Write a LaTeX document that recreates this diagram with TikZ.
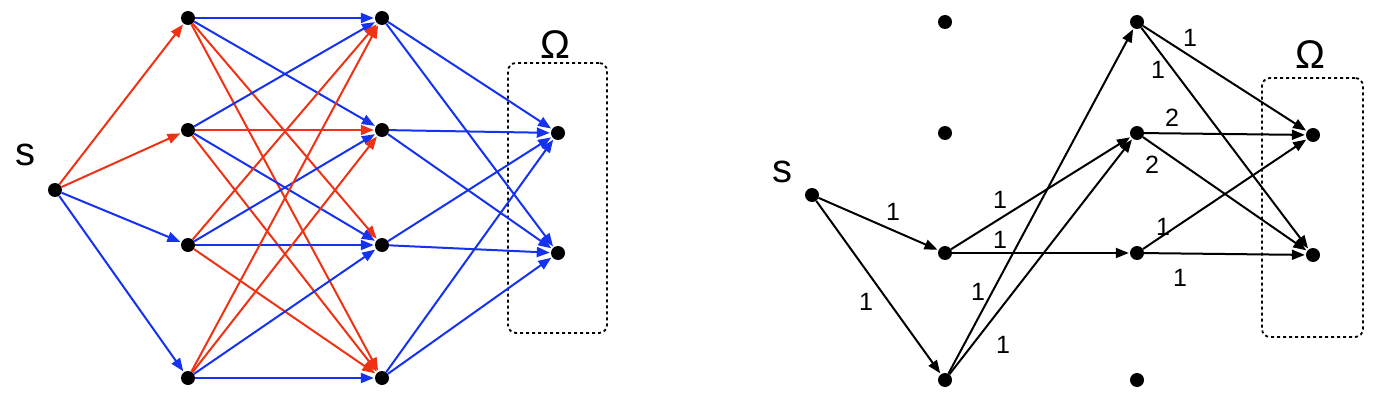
\documentclass[tikz,border=0pt]{standalone}
\usepackage{fontspec}
\setmainfont{Liberation Sans}
\usetikzlibrary{arrows.meta}
\definecolor{eb}{RGB}{20,50,240}
\definecolor{er}{RGB}{240,50,20}
\begin{document}
\begin{tikzpicture}[x=1pt,y=-1pt,
  dot/.style={circle,fill=black,inner sep=0pt,minimum size=14pt},
  ar/.style={line width=2pt,-{Triangle[length=13pt,width=10pt]},shorten >=1pt},
  bl/.style={ar,eb}, rd/.style={ar,er}, bk/.style={ar,black},
  lab/.style={font=\fontsize{25}{25}\selectfont},
  big/.style={font=\fontsize{40}{40}\selectfont},
  box/.style={draw,dashed,line width=1.8pt,rounded corners=8pt}]
\useasboundingbox (0,0) rectangle (1376,404);
% left
\node[dot] (s) at (55,190) {};
\node[big] (sl) at (25,155) {s};
\foreach \i/\y in {1/18,2/130,3/245,4/378}{
  \node[dot] (a\i) at (188,\y) {};
  \node[dot] (b\i) at (382,\y) {};}
\node[dot] (o1) at (558,133) {};
\node[dot] (o2) at (558,253) {};
\node[box,minimum width=99pt,minimum height=270pt] (bx) at (557.5,198) {};
\node[big] (om) at (555,45) {Ω};
\draw[rd] (s)--(a1); \draw[rd] (s)--(a2); \draw[bl] (s)--(a3); \draw[bl] (s)--(a4);
\draw[bl] (a1)--(b1); \draw[bl] (a1)--(b2); \draw[rd] (a1)--(b3); \draw[rd] (a1)--(b4);
\draw[bl] (a2)--(b1); \draw[rd] (a2)--(b2); \draw[bl] (a2)--(b3); \draw[rd] (a2)--(b4);
\draw[rd] (a3)--(b1); \draw[bl] (a3)--(b2); \draw[bl] (a3)--(b3); \draw[rd] (a3)--(b4);
\draw[rd] (a4)--(b1); \draw[rd] (a4)--(b2); \draw[bl] (a4)--(b3); \draw[bl] (a4)--(b4);
\foreach \i in {1,2,3,4}{\draw[bl] (b\i)--(o1); \draw[bl] (b\i)--(o2);}
% right
\node[dot] (t) at (812,195) {};
\node[big] (tl) at (782,172) {s};
\foreach \i/\y in {1/22,2/133,3/253,4/380}{
  \node[dot] (c\i) at (945,\y) {};
  \node[dot] (d\i) at (1137,\y) {};}
\node[dot] (p1) at (1313,135) {};
\node[dot] (p2) at (1313,255) {};
\node[box,minimum width=101pt,minimum height=259pt] (bx2) at (1312.5,207.5) {};
\node[big] (om2) at (1310,55) {Ω};
\draw[bk] (t)--(c3); \draw[bk] (t)--(c4);
\draw[bk] (c3)--(d2); \draw[bk] (c3)--(d3);
\draw[bk] (c4)--(d1); \draw[bk] (c4)--(d2);
\draw[bk] (d1)--(p1); \draw[bk] (d1)--(p2);
\draw[bk] (d2)--(p1); \draw[bk] (d2)--(p2);
\draw[bk] (d3)--(p1); \draw[bk] (d3)--(p2);
\node[lab] (l1) at (893,212) {1};
\node[lab] (l2) at (866,302) {1};
\node[lab] (l3) at (1000,200) {1};
\node[lab] (l4) at (1000,240) {1};
\node[lab] (l5) at (978,292) {1};
\node[lab] (l6) at (1003,345) {1};
\node[lab] (l7) at (1190,38) {1};
\node[lab] (l8) at (1158,70) {1};
\node[lab] (l9) at (1172,118) {2};
\node[lab] (l10) at (1152,165) {2};
\node[lab] (l11) at (1163,227) {1};
\node[lab] (l12) at (1180,278) {1};
\end{tikzpicture}
\end{document}
